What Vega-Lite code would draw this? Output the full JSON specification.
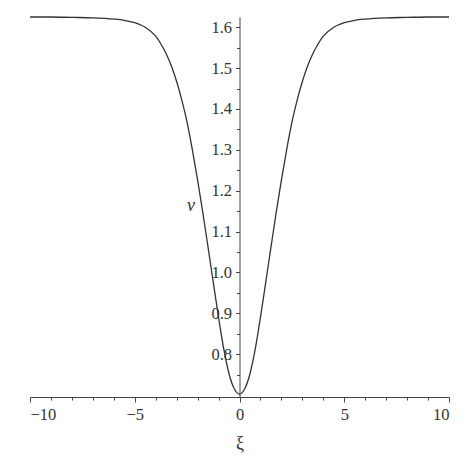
{
  "$schema": "https://vega.github.io/schema/vega-lite/v6.json",
  "autosize": {"type": "none"},
  "padding": {"left": 30, "top": 17, "right": 25, "bottom": 70},
  "width": 419,
  "height": 380,
  "background": "white",
  "config": {
    "view": {"stroke": null},
    "axis": {"labelFont": "Liberation Serif", "titleFont": "Liberation Serif", "labelColor": "#333", "titleColor": "#333", "domainColor": "#444", "tickColor": "#444", "grid": false, "labelFontSize": 16.5, "titleFontSize": 18, "titleFontWeight": "normal"}
  },
  "data": {"values": [
    {"xi": -10, "v": 1.625}, {"xi": -9, "v": 1.625}, {"xi": -8, "v": 1.624}, {"xi": -7, "v": 1.623},
    {"xi": -6, "v": 1.620}, {"xi": -5.5, "v": 1.617}, {"xi": -5, "v": 1.611}, {"xi": -4.5, "v": 1.600},
    {"xi": -4, "v": 1.578}, {"xi": -3.75, "v": 1.559}, {"xi": -3.5, "v": 1.535}, {"xi": -3.25, "v": 1.505},
    {"xi": -3, "v": 1.467}, {"xi": -2.75, "v": 1.421}, {"xi": -2.5, "v": 1.367}, {"xi": -2.25, "v": 1.300},
    {"xi": -2, "v": 1.226}, {"xi": -1.75, "v": 1.146}, {"xi": -1.5, "v": 1.061}, {"xi": -1.25, "v": 0.975},
    {"xi": -1, "v": 0.890}, {"xi": -0.75, "v": 0.812}, {"xi": -0.5, "v": 0.752}, {"xi": -0.25, "v": 0.715},
    {"xi": 0, "v": 0.702},
    {"xi": 0.25, "v": 0.715}, {"xi": 0.5, "v": 0.752}, {"xi": 0.75, "v": 0.812}, {"xi": 1, "v": 0.890},
    {"xi": 1.25, "v": 0.975}, {"xi": 1.5, "v": 1.061}, {"xi": 1.75, "v": 1.146}, {"xi": 2, "v": 1.226},
    {"xi": 2.25, "v": 1.300}, {"xi": 2.5, "v": 1.367}, {"xi": 2.75, "v": 1.421}, {"xi": 3, "v": 1.467},
    {"xi": 3.25, "v": 1.505}, {"xi": 3.5, "v": 1.535}, {"xi": 3.75, "v": 1.559}, {"xi": 4, "v": 1.578},
    {"xi": 4.5, "v": 1.600}, {"xi": 5, "v": 1.611}, {"xi": 5.5, "v": 1.617}, {"xi": 6, "v": 1.620},
    {"xi": 7, "v": 1.623}, {"xi": 8, "v": 1.624}, {"xi": 9, "v": 1.625}, {"xi": 10, "v": 1.625}
  ]},
  "layer": [
    {
      "mark": {"type": "line", "interpolate": "monotone", "color": "#333", "strokeWidth": 1.3},
      "encoding": {
        "x": {"field": "xi", "type": "quantitative",
              "scale": {"domain": [-10, 10], "nice": false, "zero": false},
              "axis": {"orient": "bottom", "values": [-10, -5, 0, 5, 10], "tickSize": 5, "labelPadding": 4, "title": "ξ", "titleY": 46, "titleBaseline": "middle"}},
        "y": {"field": "v", "type": "quantitative",
              "scale": {"domain": [0.695, 1.625], "nice": false, "zero": false},
              "axis": {"orient": "left", "offset": -209.5, "values": [0.8, 0.9, 1.0, 1.1, 1.2, 1.3, 1.4, 1.5, 1.6], "format": ".1f", "tickSize": 4, "labelPadding": 4, "title": "ν", "titleFontStyle": "italic", "titleAngle": 0, "titleAlign": "center", "titleBaseline": "middle", "titleX": -49, "titleY": 188}}
      }
    },
    {
      "mark": {"type": "line", "interpolate": "monotone", "strokeOpacity": 0},
      "encoding": {
        "x": {"field": "xi", "type": "quantitative",
              "axis": {"orient": "bottom", "values": [-9, -8, -7, -6, -4, -3, -2, -1, 1, 2, 3, 4, 6, 7, 8, 9], "tickSize": 3, "labels": false, "domain": false, "title": null}},
        "y": {"field": "v", "type": "quantitative",
              "axis": {"orient": "left", "offset": -209.5, "values": [0.75, 0.85, 0.95, 1.05, 1.15, 1.25, 1.35, 1.45, 1.55], "tickSize": 3, "labels": false, "domain": false, "title": null}}
      }
    }
  ],
  "resolve": {"axis": {"x": "independent", "y": "independent"}}
}
